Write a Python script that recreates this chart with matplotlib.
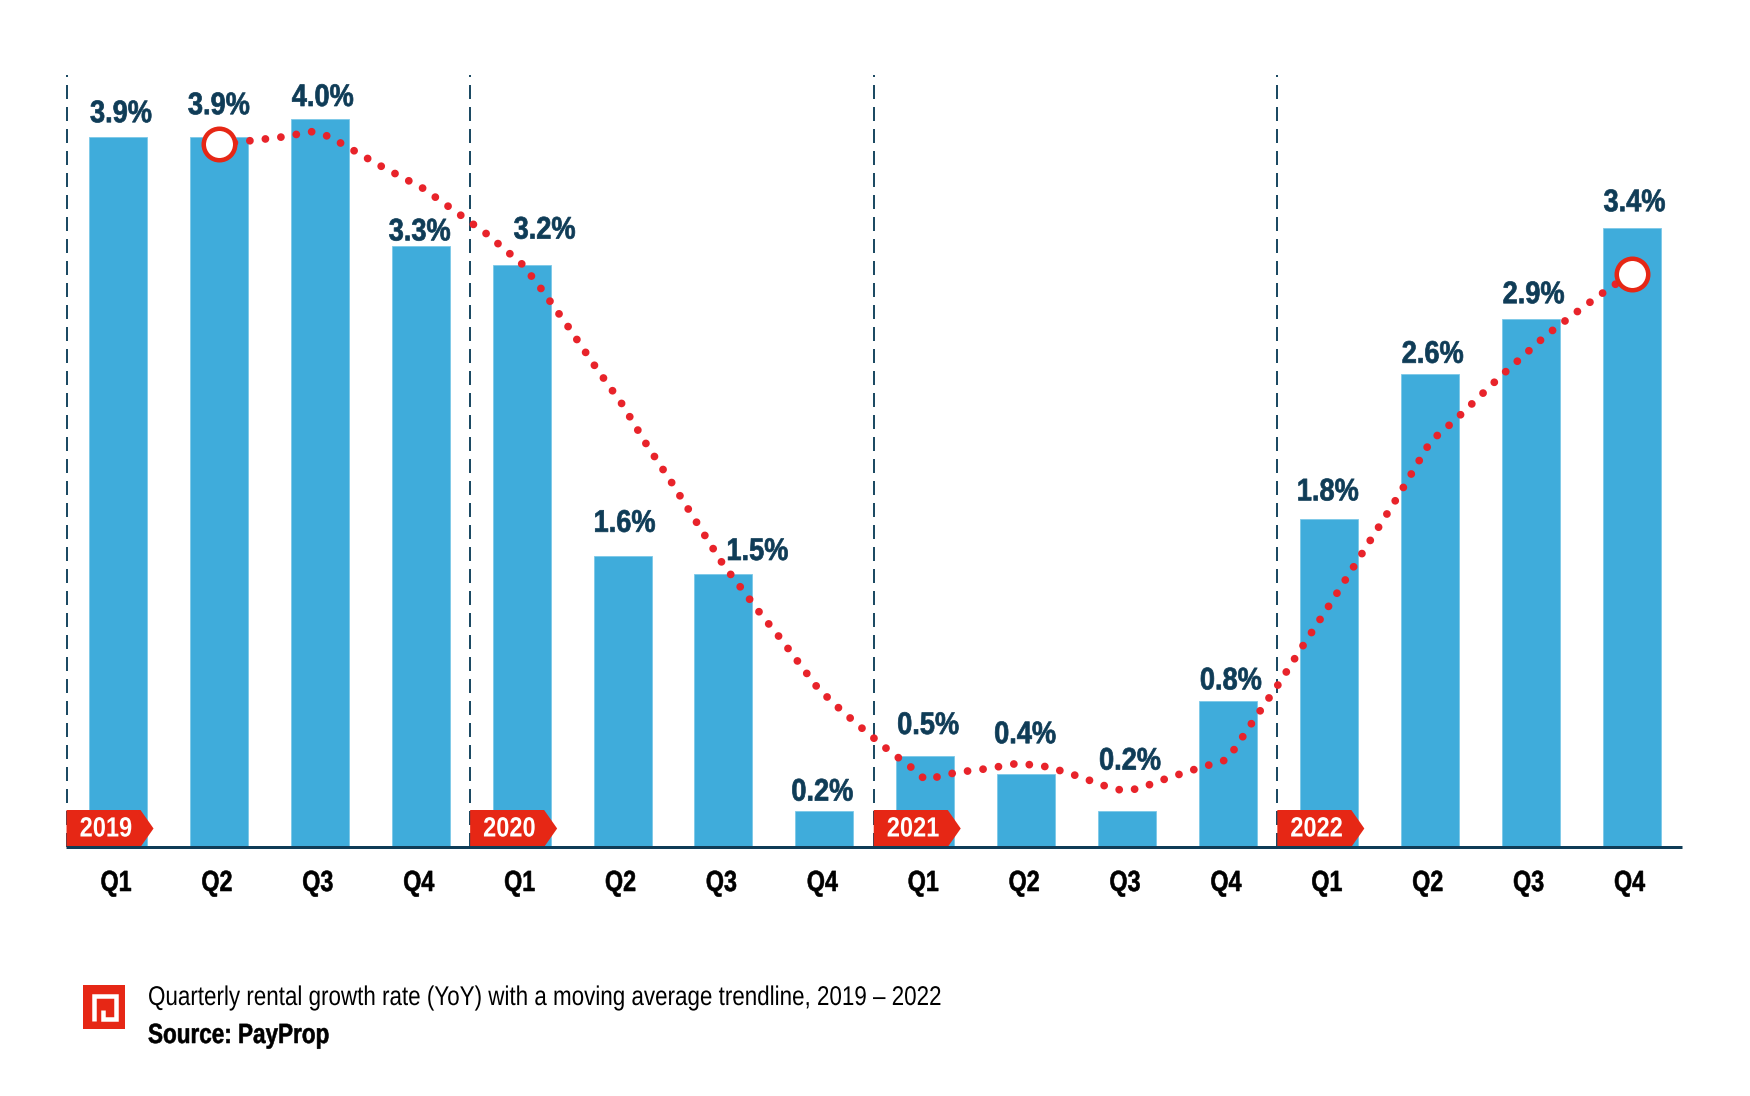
import matplotlib
matplotlib.use('Agg')
import matplotlib.pyplot as plt
import matplotlib.patheffects as pe
from matplotlib.patches import Rectangle
from matplotlib.transforms import Affine2D

# rental growth, % YoY, by quarter
quarters = ['Q1', 'Q2', 'Q3', 'Q4'] * 4
years = ['2019', '2020', '2021', '2022']
growth = [3.9, 3.9, 4.0, 3.3, 3.2, 1.6, 1.5, 0.2, 0.5, 0.4, 0.2, 0.8, 1.8, 2.6, 2.9, 3.4]

# moving average trendline, x in quarters from 2019 Q1
trend_q = [1.00, 1.30, 1.61, 1.92, 2.06, 2.20, 2.61, 3.02, 3.40, 3.65, 4.01, 4.19, 4.46, 4.73,
           5.00, 5.24, 5.49, 5.75, 6.00, 6.18, 6.37, 6.56, 6.75, 6.94, 7.17, 7.40, 7.64, 7.88,
           8.00, 8.16, 8.31, 8.61, 8.92, 9.07, 9.22, 9.51, 9.81, 9.96, 10.11, 10.41, 10.69, 10.99,
           11.08, 11.26, 11.52, 11.69, 12.03, 12.36, 12.69, 13.01, 13.24, 13.69, 14.15, 14.53, 14.78, 15.00]
trend_v = [3.86, 3.88, 3.90, 3.93, 3.91, 3.87, 3.74, 3.62, 3.47, 3.37, 3.20, 3.07, 2.86, 2.64,
           2.43, 2.21, 2.00, 1.77, 1.55, 1.42, 1.28, 1.15, 1.01, 0.87, 0.75, 0.64, 0.53, 0.43,
           0.37, 0.39, 0.41, 0.43, 0.46, 0.45, 0.44, 0.39, 0.33, 0.31, 0.32, 0.38, 0.43, 0.48,
           0.55, 0.70, 0.91, 1.06, 1.35, 1.64, 1.93, 2.23, 2.34, 2.58, 2.81, 2.97, 3.07, 3.15]

# label nudges from the bar top centre, in pixels
label_dx = [3, 0, 3, -1, 23, 2, 34, -2, 3, -1, 3, 3, -1, 3, 3, 3]
label_dy = [15, 23, 13, 6, 26, 24, 14, 10, 22, 31, 41, 12, 19, 11, 16, 17]

BLUE = '#3FACDB'
NAVY = '#0F3C57'
RED = '#E62715'
DOT = '#E8232A'
FONT = 'Liberation Sans'


class Squeeze(pe.AbstractPathEffect):
    # condensed look: narrows the glyph outlines around their centre (or their left edge)
    def __init__(self, sx, stroke=0.0, left=False):
        super().__init__()
        self.sx, self.stroke, self.left = sx, stroke, left

    def draw_path(self, renderer, gc, tpath, affine, rgbFace=None):
        bb = tpath.get_extents()
        cx = 0 if self.left else (bb.x0 + bb.x1) / 2
        squeeze = Affine2D().translate(-cx, 0).scale(self.sx, 1).translate(cx, 0)
        gc0 = renderer.new_gc()
        gc0.copy_properties(gc)
        gc0.set_foreground(rgbFace)
        gc0.set_linewidth(self.stroke)
        renderer.draw_path(gc0, tpath, squeeze + affine, rgbFace)
        gc0.restore()


# one axes over the whole figure: 100.9 px per quarter, 182 px per percent
W, H = 1750, 1096
X0, Y0, PX_Q, PX_V = 118, 847, 100.9, 182
fig = plt.figure(figsize=(W / 100, H / 100), dpi=100, facecolor='white')
ax = fig.add_axes([0, 0, 1, 1])
ax.set_xlim(-X0 / PX_Q, (W - X0) / PX_Q)
ax.set_ylim(-(H - Y0) / PX_V, Y0 / PX_V)
ax.axis('off')
pix = Affine2D().scale(1, -1).translate(0, H)  # pixels from the top left


def px(points):
    # pixels to points at 100 dpi
    return points * 0.72


xs = list(range(len(growth)))
ax.bar(xs, growth, width=58 / PX_Q, color=BLUE, edgecolor='#7CC8E8', linewidth=0.6, zorder=2)

# year separators and tags
for i, year in enumerate(years):
    x = 4 * i - 0.51
    ax.plot([x, x], [0, 4.24], color='#1C4A63', lw=px(2), ls=(0, (7, 4)), zorder=3)
    w, tip, h = 74 / PX_Q, 87 / PX_Q, 37 / PX_V
    ax.fill([x, x + w, x + tip, x + w, x], [0, 0, h / 2, h, h], color=RED, lw=0, zorder=4)
    ax.annotate(year, (x + 0.39, h / 2), xytext=(0, px(2)), textcoords='offset points', color='white',
                fontsize=20, fontweight='bold', family=FONT, ha='center', va='center_baseline', zorder=5,
                path_effects=[Squeeze(0.85)])

ax.plot([-0.515, 15.5], [0, 0], color=NAVY, lw=px(3), solid_capstyle='butt', zorder=6)

# trendline, dots come from zero-length dashes with round caps
ax.plot(trend_q, trend_v, color=DOT, lw=px(7.8), ls=(0, (0.001, 2.0)), dash_capstyle='round', zorder=7)
ax.plot([trend_q[0], trend_q[-1]], [trend_v[0], trend_v[-1]], ls='none', marker='o', ms=px(31.5),
        mfc='white', mec=RED, mew=px(4.5), zorder=8)

for x, v, dx, dy in zip(xs, growth, label_dx, label_dy):
    ax.annotate(f'{v:.1f}%', (x, v), xytext=(px(dx), px(dy)), textcoords='offset points', ha='center',
                va='baseline', color=NAVY, fontsize=22.5, fontweight='bold', family=FONT, zorder=9,
                path_effects=[Squeeze(0.87, stroke=0.5)])

for x, q in zip(xs, quarters):
    ax.annotate(q, (x, 0), xytext=(px(-2), px(-44)), textcoords='offset points', ha='center', va='baseline',
                color='black', fontsize=21, fontweight='bold', family=FONT,
                path_effects=[Squeeze(0.8, stroke=0.4)])

fig.text(148 / W, 1 - 1005 / H, 'Quarterly rental growth rate (YoY) with a moving average trendline, 2019 – 2022',
         fontsize=19.5, family=FONT, color='black', va='baseline', path_effects=[Squeeze(0.827, left=True)])
fig.text(148 / W, 1 - 1043 / H, 'Source: PayProp', fontsize=20, fontweight='bold', family=FONT,
         color='black', va='baseline', path_effects=[Squeeze(0.81, stroke=0.4, left=True)])

# logo square with its white spiral
ax.add_patch(Rectangle((83, 985), 42, 44, transform=pix, color=RED, lw=0))
ax.plot([94.3, 94.3, 115.7, 115.7, 103, 103], [1021, 996, 996, 1018.7, 1018.7, 1010],
        transform=pix, color='white', lw=px(4.5), solid_joinstyle='miter', solid_capstyle='butt')

fig.savefig('out.png', dpi=100)
